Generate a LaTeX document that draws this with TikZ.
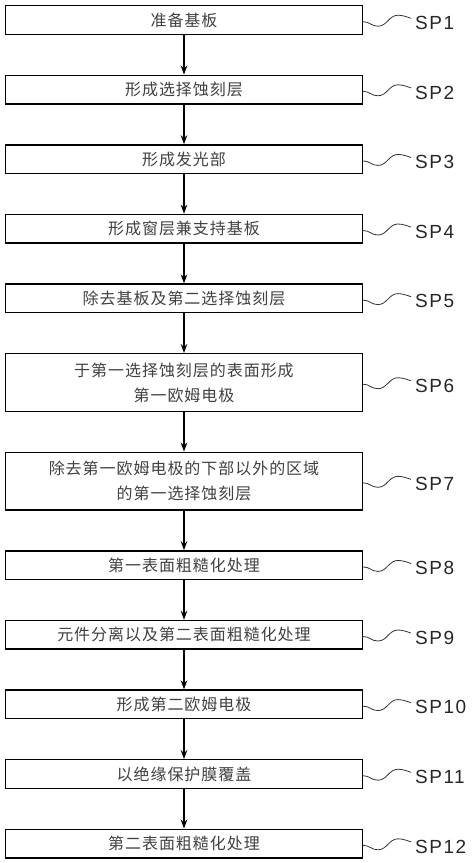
\documentclass[tikz,border=0pt]{standalone}
\usepackage{fontspec}
\setmainfont{Noto Sans CJK SC}[LetterSpace=6]
\newfontfamily\tagfont{Liberation Sans}[LetterSpace=8]
\usetikzlibrary{arrows.meta, positioning}

\begin{document}
\begin{tikzpicture}[x=1pt, y=1pt, node distance=39.6pt and 52pt, >=Stealth]
  % Define styles
  \tikzstyle{process} = [rectangle, minimum width=356.6pt, minimum height=28.6pt, inner sep=0pt, text centered, draw=black, line width=1.4pt, text=black!75, font=\fontsize{16}{25}\selectfont]
  \tikzstyle{tallprocess} = [process, minimum height=57.6pt, align=center]
  \tikzstyle{arrow} = [line width=1.4pt, ->, >={Stealth[length=9pt, width=6.5pt]}]
  \tikzstyle{tag} = [inner sep=0pt, text=black!85, font=\tagfont\fontsize{19}{19}\selectfont]
  \tikzstyle{lead} = [line width=0.8pt, black!80]

  \useasboundingbox (0,0) rectangle (474,-863);

  % Place steps
  \node [process] (step1) at (184,-20) {准备基板};
  \node [process, below=of step1] (step2) {形成选择蚀刻层};
  \node [process, below=of step2] (step3) {形成发光部};
  \node [process, below=of step3] (step4) {形成窗层兼支持基板};
  \node [process, below=of step4] (step5) {除去基板及第二选择蚀刻层};
  \node [tallprocess, below=of step5] (step6) {于第一选择蚀刻层的表面形成\\第一欧姆电极};
  \node [tallprocess, below=of step6] (step7) {除去第一欧姆电极的下部以外的区域\\的第一选择蚀刻层};
  \node [process, below=of step7] (step8) {第一表面粗糙化处理};
  \node [process, below=of step8] (step9) {元件分离以及第二表面粗糙化处理};
  \node [process, below=of step9] (step10) {形成第二欧姆电极};
  \node [process, below=of step10] (step11) {以绝缘保护膜覆盖};
  \node [process, below=of step11] (step12) {第二表面粗糙化处理};

  % Step tags
  \foreach \i in {1,...,12}
    \node [tag, right=of step\i, yshift=-3pt] (tag\i) {SP\i};

  % Draw arrows
  \foreach \i [evaluate=\i as \j using int(\i+1)] in {1,...,11}
    \draw [arrow] (step\i) -- (step\j);

  % Wavy leaders from steps to tags
  \foreach \i in {1,...,12}
    \draw [lead] ([yshift=-1.7pt]step\i.east) .. controls +(7pt,0pt) and +(-7pt,0pt) .. ++(15pt,-4.5pt)
      .. controls +(9pt,0pt) and +(-9pt,0pt) .. ++(20pt,11pt)
      .. controls +(5pt,0pt) and +(-3pt,1pt) .. ([xshift=-4pt, yshift=4.7pt]tag\i.west);
\end{tikzpicture}
\end{document}
